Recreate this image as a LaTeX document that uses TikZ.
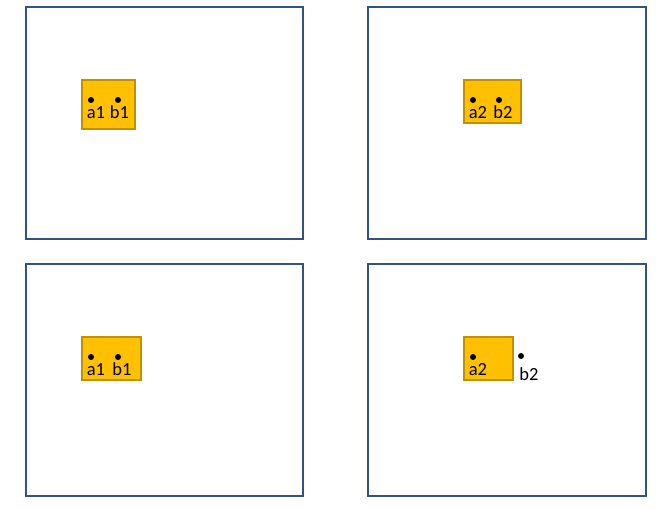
\documentclass[tikz,border=0pt]{standalone}
\usepackage{fontspec}
\setmainfont{Carlito}
\usetikzlibrary{positioning}
\definecolor{framblue}{HTML}{2F528F}
\definecolor{chipfill}{HTML}{FFC000}
\definecolor{chipline}{HTML}{BF9000}
\tikzset{
    frame/.style = {
        rectangle,
        draw=framblue,
        line width=1.8pt,
        inner sep=0pt
    },
    chip/.style = {
        rectangle,
        draw=chipline,
        fill=chipfill,
        line width=1.4pt,
        inner sep=0pt
    },
    pin/.style = {
        circle,
        fill=black,
        inner sep=0pt,
        minimum size=6pt
    },
    tag/.style = {
        inner sep=0pt,
        font=\fontsize{18.5}{21}\selectfont
    }
}
\begin{document}
\begin{tikzpicture}[x=1pt,y=-1pt]
\useasboundingbox (0,0) rectangle (656,510);
% outer frames
\node (F1) [frame,minimum width=277pt,minimum height=232pt] at (164.5,123) {};
\node (F2) [frame,minimum width=278pt,minimum height=232pt] at (507,123) {};
\node (F3) [frame,minimum width=277pt,minimum height=232pt] at (164.5,380) {};
\node (F4) [frame,minimum width=278pt,minimum height=232pt] at (507,380) {};
% chips
\node (C1) [chip,minimum width=53pt,minimum height=49pt] at (108.5,104.5) {};
\node (C2) [chip,minimum width=57pt,minimum height=43pt] at (492.5,101.5) {};
\node (C3) [chip,minimum width=59pt,minimum height=43pt] at (111.5,358.5) {};
\node (C4) [chip,minimum width=49pt,minimum height=43pt] at (488.5,358.5) {};
% pins and tags
\node (A1) [pin] at (91,100) {};
\node (B1) [pin] at (118,100) {};
\node [tag] at (96,112.5) {a1};
\node [tag] at (119.5,112.5) {b1};
\node (A2) [pin] at (473,100) {};
\node (B2) [pin] at (499,100) {};
\node [tag] at (478,112.5) {a2};
\node [tag] at (503,112.5) {b2};
\node (A3) [pin] at (91,357) {};
\node (B3) [pin] at (118,357) {};
\node [tag] at (96,369.5) {a1};
\node [tag] at (122,369.5) {b1};
\node (A4) [pin] at (473,357) {};
\node (B4) [pin] at (521,356) {};
\node [tag] at (478,369.5) {a2};
\node [tag] at (529,374) {b2};
\end{tikzpicture}
\end{document}
